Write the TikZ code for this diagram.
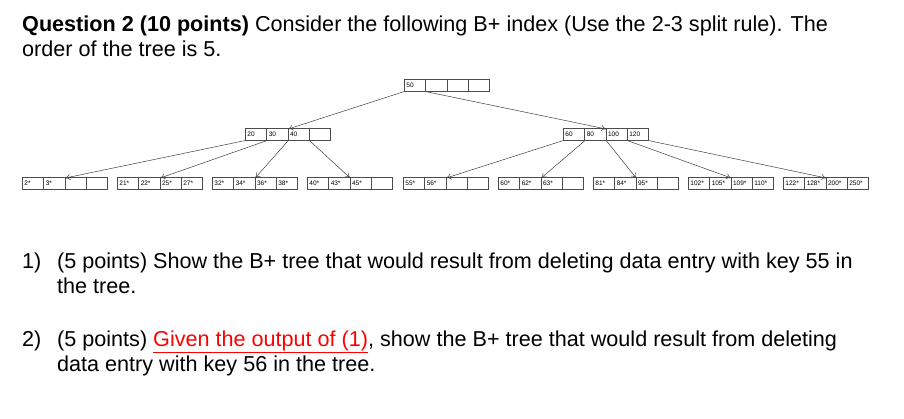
\documentclass[tikz,border=0pt]{standalone}
\usepackage{fontspec}
\setmainfont{Liberation Sans}
\usepackage{xcolor}
\usetikzlibrary{arrows.meta}
\begin{document}
\begin{tikzpicture}[x=1pt,y=-1pt,
  cell/.style={draw=black!70,line width=0.6pt,minimum width=21.3pt,minimum height=12pt,inner sep=0pt,anchor=north west,font=\fontsize{6.5}{7}\selectfont,align=left,text width=17pt},
  ptr/.style={draw=black!75,line width=0.5pt,-{To[length=5pt,width=6pt]}},
  txt/.style={anchor=base west,inner sep=0pt,font=\fontsize{21.6}{24}\selectfont}]
\useasboundingbox (0,0) rectangle (904,418);
\newcommand{\bnode}[6]{%
  \node[cell] (#1a) at (#2,#3) {#4};
  \node[cell] (#1b) at (#2+21.3,#3) {#5};
  \node[cell] (#1c) at (#2+42.6,#3) {#6};
  \node[cell] (#1d) at (#2+63.9,#3) {};}
\newcommand{\bfull}[7]{%
  \node[cell] (#1a) at (#2,#3) {#4};
  \node[cell] (#1b) at (#2+21.3,#3) {#5};
  \node[cell] (#1c) at (#2+42.6,#3) {#6};
  \node[cell] (#1d) at (#2+63.9,#3) {#7};}
\bnode{r}{404}{79}{50}{}{}
\bnode{p}{245}{128}{20}{30}{40}
\bfull{q}{563}{128}{60}{80}{100}{120}
\bnode{la}{22}{177}{2*}{3*}{}
\bfull{lb}{117}{177}{21*}{22*}{25*}{27*}
\bfull{lc}{212}{177}{32*}{34*}{36*}{38*}
\bnode{ld}{307}{177}{40*}{43*}{45*}
\bnode{le}{403}{177}{55*}{56*}{}
\bnode{lf}{498}{177}{60*}{62*}{63*}
\bnode{lg}{593}{177}{81*}{84*}{95*}
\bfull{lh}{688}{177}{102*}{105*}{109*}{110*}
\bfull{li}{783}{177}{122*}{128*}{200*}{250*}
\draw[ptr] (ra.south west) -- ([yshift=-1pt]pb.north east);
\draw[ptr] (ra.south east) -- ([yshift=-1pt]qb.north east);
\draw[ptr] (pa.south west) -- ([yshift=-1pt]lab.north east);
\draw[ptr] (pa.south east) -- ([yshift=-1pt]lbb.north east);
\draw[ptr] (pb.south east) -- ([yshift=-1pt]lcb.north east);
\draw[ptr] (pc.south east) -- ([yshift=-1pt]ldb.north east);
\draw[ptr] (qa.south west) -- ([yshift=-1pt]leb.north east);
\draw[ptr] (qa.south east) -- ([yshift=-1pt]lfb.north east);
\draw[ptr] (qb.south east) -- ([yshift=-1pt]lgb.north east);
\draw[ptr] (qc.south east) -- ([yshift=-1pt]lhb.north east);
\draw[ptr] (qd.south east) -- ([yshift=-1pt]lib.north east);
\node[txt] (t1) at (22,31) {\textbf{Question 2 (10 points)} Consider the following B+ index (Use the 2-3 split rule). The};
\node[txt] (t2) at (22,56) {order of the tree is 5.};
\node[txt] (n1) at (22,268) {1)};
\node[txt] (a1) at (57,268) {(5 points) Show the B+ tree that would result from deleting data entry with key 55 in};
\node[txt] (a2) at (57,293) {the tree.};
\node[txt] (n2) at (22,346) {2)};
\node[txt] (b1) at (57,346) {(5 points) {\color{red}\underline{Given the output of (1)}}, show the B+ tree that would result from deleting};
\node[txt] (b2) at (57,371) {data entry with key 56 in the tree.};
\end{tikzpicture}
\end{document}
